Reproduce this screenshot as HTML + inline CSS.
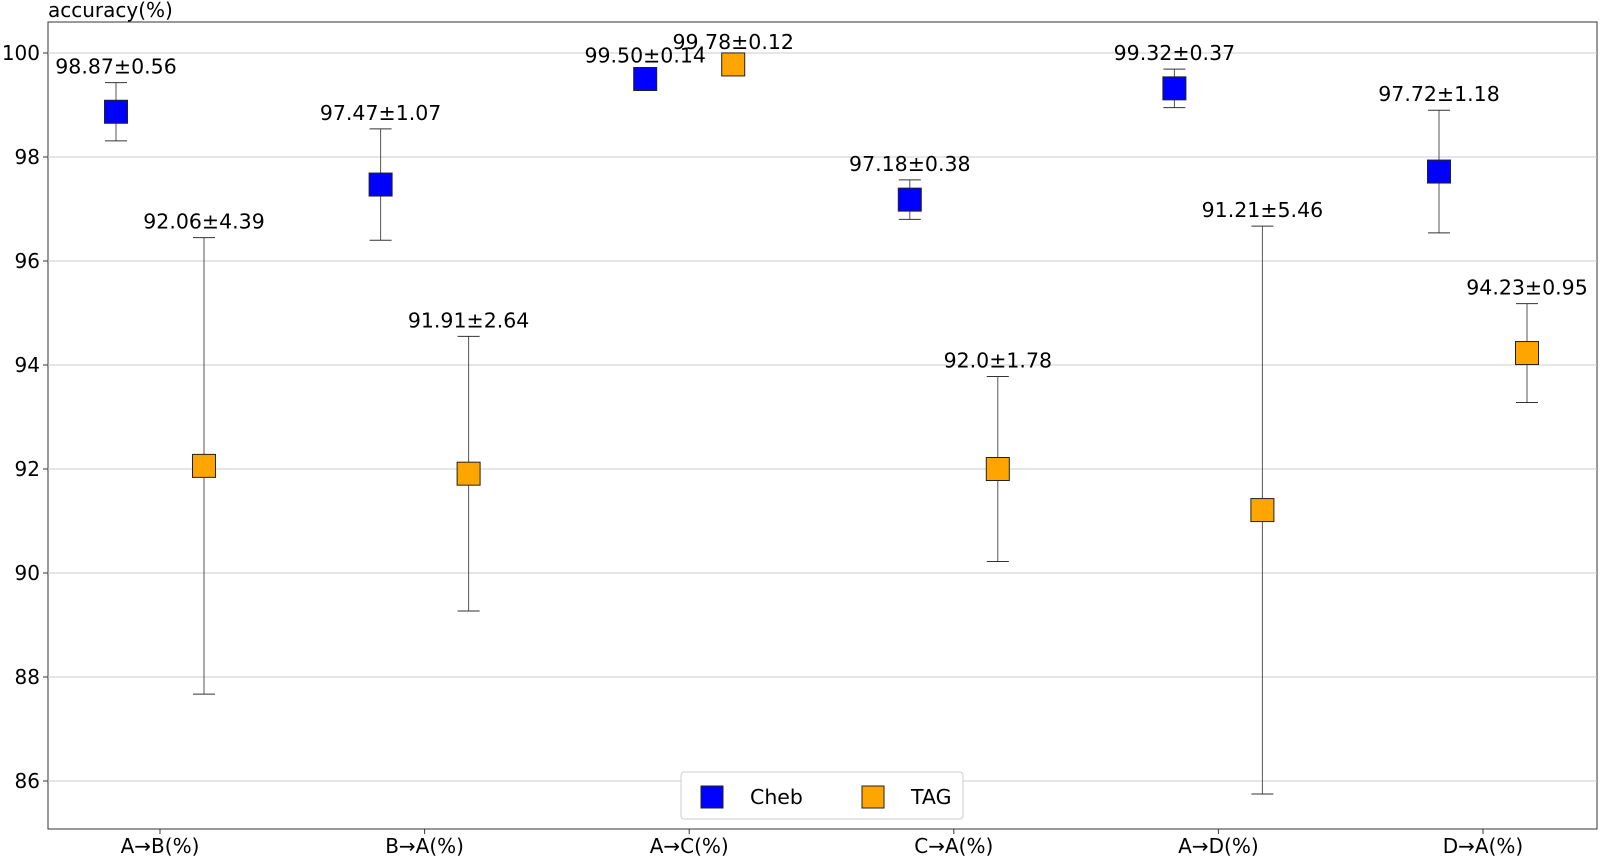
<!DOCTYPE html>
<html><head><meta charset="utf-8"><style>
html,body{margin:0;padding:0;background:#fff;}
svg text{font-family:"DejaVu Sans","Liberation Sans",sans-serif;fill:#000;}
</style></head><body>
<svg id="s" width="1600" height="858" xmlns="http://www.w3.org/2000/svg"></svg>
<script>
const s=document.getElementById('s');
const L=48,R=1597,T=22,B=829;
const Y=v=>53+(100-v)*52;
let h='';
h+=`<rect x="${L}" y="${T}" width="${R-L}" height="${B-T}" fill="#fff" stroke="#333" stroke-width="1"/>`;
for(let v=86;v<=100;v+=2){const y=Y(v);
h+=`<line x1="${L}" x2="${R}" y1="${y}" y2="${y}" stroke="#ccc" stroke-width="1"/>`;
h+=`<line x1="${L-5}" x2="${L}" y1="${y}" y2="${y}" stroke="#333"/>`;
h+=`<text x="${L-8}" y="${y+7}" font-size="20" text-anchor="end">${v}</text>`;}
h+=`<text x="48" y="17" font-size="20">accuracy(%)</text>`;
const cats=['A→B(%)','B→A(%)','A→C(%)','C→A(%)','A→D(%)','D→A(%)'];
const cheb=[[98.87,0.56,'98.87±0.56'],[97.47,1.07,'97.47±1.07'],[99.50,0.14,'99.50±0.14'],[97.18,0.38,'97.18±0.38'],[99.32,0.37,'99.32±0.37'],[97.72,1.18,'97.72±1.18']];
const tag=[[92.06,4.39,'92.06±4.39'],[91.91,2.64,'91.91±2.64'],[99.78,0.12,'99.78±0.12'],[92.0,1.78,'92.0±1.78'],[91.21,5.46,'91.21±5.46'],[94.23,0.95,'94.23±0.95']];
function pt(x,d,col){const [m,e,t]=d;const y1=Y(m+e),y2=Y(m-e),y=Y(m);
let o=`<line x1="${x}" x2="${x}" y1="${y1}" y2="${y2}" stroke="#555" stroke-width="1"/>`;
o+=`<line x1="${x-11}" x2="${x+11}" y1="${y1}" y2="${y1}" stroke="#333"/>`;
o+=`<line x1="${x-11}" x2="${x+11}" y1="${y2}" y2="${y2}" stroke="#333"/>`;
o+=`<rect x="${x-11.5}" y="${y-11.5}" width="23" height="23" fill="${col}" stroke="#222" stroke-width="1"/>`;
o+=`<text x="${x}" y="${y1-9}" font-size="20.5" text-anchor="middle">${t}</text>`;return o;}
cats.forEach((c,i)=>{const cx=160+i*264.6;
h+=`<line x1="${cx}" x2="${cx}" y1="${B}" y2="${B+5}" stroke="#333"/>`;
h+=`<text x="${cx}" y="${B+24}" font-size="20" text-anchor="middle">${c}</text>`;
h+=pt(cx-44,cheb[i],'#0000ff');h+=pt(cx+44,tag[i],'#ffa500');});
h+=`<rect x="681" y="772" width="282" height="47" rx="3" fill="#fff" stroke="#ccc"/>`;
h+=`<rect x="701" y="786" width="22" height="22" fill="#0000ff" stroke="#222"/>`;
h+=`<text x="750" y="804" font-size="20.5">Cheb</text>`;
h+=`<rect x="862" y="786" width="22" height="22" fill="#ffa500" stroke="#222"/>`;
h+=`<text x="911" y="804" font-size="20.5">TAG</text>`;
s.innerHTML=h;
</script>
</body></html>
